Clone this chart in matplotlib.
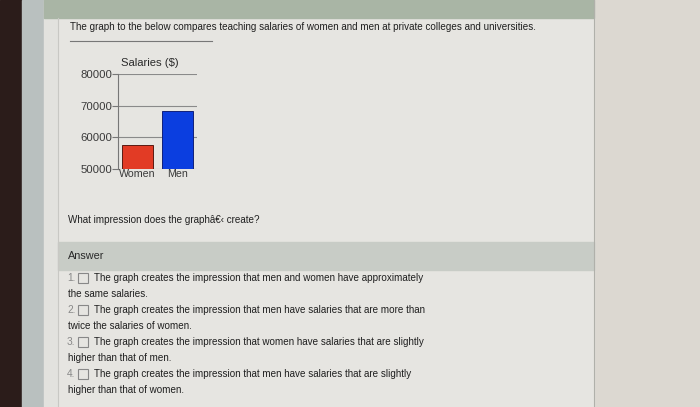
import matplotlib
matplotlib.use("Agg")
import matplotlib.pyplot as plt
from matplotlib.patches import Rectangle

plt.rcParams['font.family'] = ['Liberation Sans', 'DejaVu Sans']

# chart data
groups = ['Women', 'Men']
salaries = [57600, 68200]
bar_colors = ['#e23b25', '#0b3ee0']
edge_colors = ['#5a1a12', '#10207a']
yticks = [50000, 60000, 70000, 80000]

question = "The graph to the below compares teaching salaries of women and men at private colleges and universities."
prompt = "What impression does the graph\u00e2\u20ac\u2039 create?"
answers = [
    ["The graph creates the impression that men and women have approximately", "the same salaries."],
    ["The graph creates the impression that men have salaries that are more than", "twice the salaries of women."],
    ["The graph creates the impression that women have salaries that are slightly", "higher than that of men."],
    ["The graph creates the impression that men have salaries that are slightly", "higher than that of women."],
]

fig = plt.figure(figsize=(7, 4.07), dpi=100)
bg = fig.add_axes([0, 0, 1, 1])
bg.set_xlim(0, 700)
bg.set_ylim(407, 0)
bg.axis('off')

# screen background pieces
bg.add_patch(Rectangle((0, 0), 700, 407, color='#dcd8d1'))
bg.add_patch(Rectangle((0, 0), 22, 407, color='#2b1c1a'))
bg.add_patch(Rectangle((22, 0), 22, 407, color='#b9c0bf'))
bg.add_patch(Rectangle((44, 0), 14, 407, color='#e2e2de'))
bg.add_patch(Rectangle((58, 0), 536, 407, color='#e6e5e1'))
bg.add_patch(Rectangle((44, 0), 550, 18, color='#a9b5a5'))
bg.add_patch(Rectangle((58, 242), 536, 28, color='#c8ccc6'))
bg.plot([58, 58], [18, 407], color='#c8c8c4', lw=0.8)
bg.plot([594, 594], [0, 407], color='#b0b0aa', lw=0.8)
bg.plot([70, 212], [41, 41], color='#777777', lw=0.8)

txt = dict(fontsize=7.1, color='#1f1f1f', va='center')
bg.text(70, 27, question, **txt)
bg.text(68, 220, prompt, **txt)
bg.text(68, 256, "Answer", fontsize=7.8, color='#2a2a2a', va='center')

y = 278
for i, lines in enumerate(answers):
    bg.text(67, y, f"{i + 1}.", fontsize=7.3, color='#888888', va='center')
    bg.add_patch(Rectangle((78, y - 5), 10, 10, fill=False, ec='#888888', lw=0.8))
    bg.text(94, y, lines[0], **txt)
    bg.text(68, y + 16, lines[1], **txt)
    y += 32

# the small bar chart
ax = fig.add_axes([118 / 700, 1 - 169 / 407, 79 / 700, 95 / 407])
ax.set_facecolor('none')
ax.bar(range(len(groups)), salaries, width=0.775, color=bar_colors,
       edgecolor=edge_colors, linewidth=0.7, zorder=3)
ax.set_ylim(50000, 80000)
ax.set_xlim(-0.4875, 1.4875)
ax.set_yticks(yticks)
ax.set_yticklabels([str(v) for v in yticks], fontsize=8.2, color='#3a3a3a')
ax.yaxis.grid(True, color='#8a8a8a', lw=0.8)
ax.tick_params(axis='y', length=4, color='#777777', pad=0)
ax.set_xticks(range(len(groups)))
ax.set_xticklabels(groups, fontsize=7.7, color='#3a3a3a')
ax.tick_params(axis='x', length=0, pad=0)
for s in ['top', 'right', 'bottom']:
    ax.spines[s].set_visible(False)
ax.spines['left'].set_color('#777777')
ax.spines['left'].set_linewidth(0.8)
ax.set_title("Salaries ($)", fontsize=8.1, color='#2a2a2a', x=0.405, pad=6)

fig.savefig('out.png', dpi=100)
